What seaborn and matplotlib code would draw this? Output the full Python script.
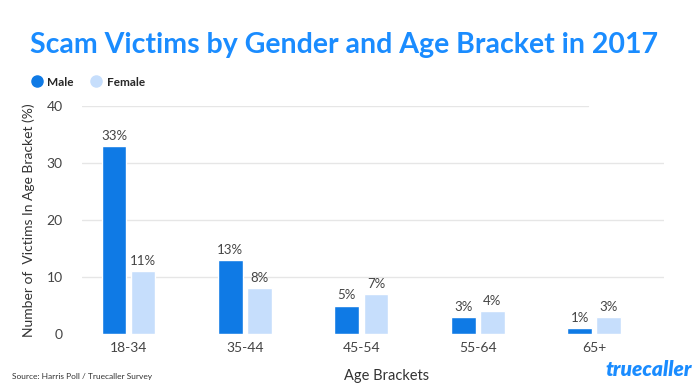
import matplotlib
matplotlib.use("Agg")
import matplotlib.pyplot as plt
import seaborn as sns
import pandas as pd
from matplotlib.lines import Line2D

categories = ["18-34", "35-44", "45-54", "55-64", "65+"]
male = [33, 13, 5, 3, 1]
female = [11, 8, 7, 4, 3]
series = ["Male", "Female"]
yticks = [0, 10, 20, 30, 40]

df = pd.DataFrame({
    "Age": categories * 2,
    "Value": male + female,
    "Gender": ["Male"] * len(categories) + ["Female"] * len(categories),
})

sns.set_theme(style="white")
plt.rcParams["font.family"] = ["Lato", "DejaVu Sans"]

colors = {"Male": "#0F7AE5", "Female": "#C6DEFC"}
fig = plt.figure(figsize=(7, 3.91), dpi=100)
ax = fig.add_axes([82/700, 1-334/391, (664-82)/700, (334-106)/391])

sns.barplot(data=df, x="Age", y="Value", hue="Gender", order=categories,
            hue_order=series, palette=colors, width=0.5, gap=0.15,
            saturation=1, legend=False, ax=ax, zorder=3)

ax.set_ylim(0, 40)
ax.set_xlim(-0.4, len(categories) - 0.4)
ax.set_yticks(yticks)
for t in yticks:
    if t == 0:
        continue
    xmax = 0.87 if t == yticks[-1] else 1.0
    ax.axhline(t, xmin=0, xmax=xmax, color="#e6e6e6", lw=1, zorder=0)

for s in ax.spines.values():
    s.set_visible(False)
ax.tick_params(axis="both", length=0, labelsize=10, labelcolor="#444444")
ax.tick_params(axis="y", pad=14)
ax.tick_params(axis="x", pad=6)

for cont in ax.containers:
    ax.bar_label(cont, labels=[f"{v:g}%" for v in cont.datavalues],
                 padding=3, fontsize=9.5, color="#444444")

ax.set_xlabel("Age Brackets", fontsize=10.5, color="#333333")
ax.xaxis.set_label_coords((387-82)/582, -(369-334)/228)
ax.set_ylabel("Number of  Victims In Age Bracket (%)", fontsize=10,
              color="#333333", labelpad=8)

fig.text(0.492, 1-45/391, "Scam Victims by Gender and Age Bracket in 2017",
         ha="center", va="center", fontsize=20.5, fontweight="bold",
         color="#1A8CFF")

handles = [Line2D([0], [0], marker="o", ls="", markersize=8,
                  markerfacecolor=colors[s], markeredgecolor=colors[s])
           for s in series]
fig.legend(handles, series, loc="center left",
           bbox_to_anchor=(20/700, 1-82/391), ncol=2, frameon=False,
           handletextpad=0.4, columnspacing=1.4, handlelength=1,
           prop={"size": 8.5, "weight": "bold"})

fig.text(12/700, 1-377/391, "Source: Harris Poll / Truecaller Survey",
         fontsize=6, color="#333333", va="center")
fig.text(692/700, 1-370/391, "truecaller", fontsize=15, fontweight="heavy",
         style="italic", color="#1A8CFF", ha="right", va="center")

fig.savefig("out.png", dpi=100, facecolor="white")
